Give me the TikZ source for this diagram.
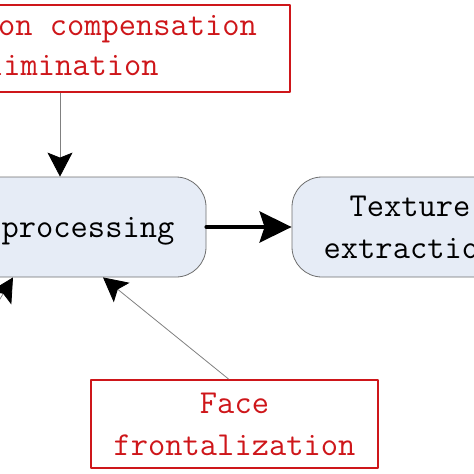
\documentclass[tikz,border=0pt]{standalone}
\usetikzlibrary{arrows.meta}
\definecolor{redline}{RGB}{206,22,26}
\definecolor{boxfill}{RGB}{230,236,246}
\definecolor{boxline}{RGB}{110,110,110}
\begin{document}
\begin{tikzpicture}[x=1pt,y=-1pt,font=\ttfamily\fontsize{33.5}{42}\selectfont,line join=round,
	stepnode/.style={draw=boxline,fill=boxfill,line width=0.8pt,rounded corners=30pt,minimum width=236pt,minimum height=100pt,align=center,inner sep=0pt},
	redbox/.style={draw=redline,line width=2pt,text=redline,align=center,inner sep=0pt},
	redtext/.style={anchor=base west,text=redline,inner sep=0pt},
	conn/.style={draw=gray,line width=0.8pt,-{Stealth[length=24pt,width=25pt,inset=5pt,color=black]}}]
\useasboundingbox (0,0) rectangle (474,474);
\node[stepnode,text depth=0pt] (prep) at (88,227) {processing};
\node[stepnode] (tex) at (410,227) {Texture\\extraction};
\node[redbox,minimum width=400pt,minimum height=87pt] (illum) at (90,48.5) {};
\node[redtext] (illumA) at (-2,35) {on compensation};
\node[redtext] (illumB) at (-14,75) {limination};
\node[redbox,minimum width=287pt,minimum height=88pt] (face) at (234.5,424) {Face\\frontalization};
% connectors
\coordinate (dropA) at (60,0);
\coordinate (tipB) at (103,0);
\coordinate (tipC) at (13,0);
\coordinate (lost) at (-61,400);
\draw[conn] (illum.south -| dropA) -- (prep.north -| dropA);
\draw[-{Stealth[length=32pt,width=31pt,inset=5pt]},line width=4pt,line cap=round] (prep) -- (tex);
\draw[conn] ([xshift=-6pt]face.north) -- (prep.south -| tipB);
\draw[conn] (lost) -- (prep.south -| tipC);
\end{tikzpicture}
\end{document}
